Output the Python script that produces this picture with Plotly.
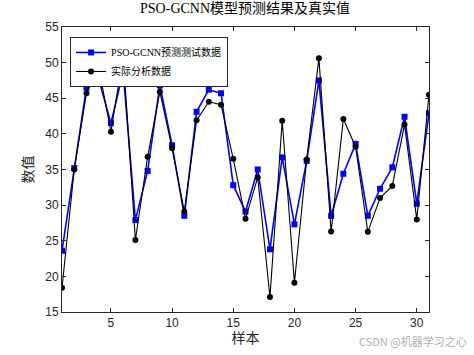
import plotly.graph_objects as go

samples = list(range(1, 32))
pred = [23.6, 35.2, 46.5, 47.7, 41.5, 48.7, 27.9, 34.8, 46.8, 38.4,
        28.5, 43.1, 46.2, 45.7, 32.8, 29.1, 35.0, 23.8, 36.7, 27.3,
        36.2, 47.5, 28.5, 34.4, 38.6, 28.5, 32.3, 35.3, 42.4, 30.2, 42.9]
actual = [18.4, 35.0, 45.7, 49.3, 40.3, 51.0, 25.1, 36.8, 45.9, 38.0,
          29.1, 41.9, 44.5, 44.1, 36.5, 28.1, 33.9, 17.1, 41.85, 19.1,
          36.4, 50.6, 26.3, 42.1, 38.2, 26.25, 31.0, 32.7, 41.3, 28.0, 45.5]

serif = "Times New Roman, Liberation Serif, Noto Sans CJK SC"
sans = "Liberation Sans, Arial, sans-serif"

fig = go.Figure()
fig.add_trace(go.Scatter(x=samples, y=pred, mode="lines+markers", name="PSO-GCNN预测测试数据",
                         line=dict(color="#0000ff", width=1.6),
                         marker=dict(symbol="square", size=6, color="#0000ff")))
fig.add_trace(go.Scatter(x=samples, y=actual, mode="lines+markers", name="实际分析数据",
                         line=dict(color="#000000", width=1.1),
                         marker=dict(symbol="circle", size=6, color="#000000")))

axis_common = dict(showline=True, linecolor="#262626", linewidth=1, mirror="ticks",
                   ticks="inside", ticklen=4, tickcolor="#262626", showgrid=False,
                   zeroline=False, tickfont=dict(family=sans, size=12, color="#262626"))
fig.update_xaxes(range=[1, 31], tickvals=[5, 10, 15, 20, 25, 30],
                 title=dict(text="样本", font=dict(family=serif, size=14, color="#262626"), standoff=3),
                 **axis_common)
fig.update_yaxes(range=[15, 55], tickvals=[15, 20, 25, 30, 35, 40, 45, 50, 55],
                 title=dict(text="数值", font=dict(family=serif, size=14, color="#262626"), standoff=8),
                 **axis_common)

fig.update_layout(
    width=474, height=355,
    margin=dict(l=62, r=45, t=27, b=40),
    paper_bgcolor="white", plot_bgcolor="white",
    title=dict(text="PSO-GCNN模型预测结果及真实值", x=0.517, xanchor="center", y=0.99, yanchor="top",
               font=dict(family=serif, size=14, color="#000000")),
    legend=dict(x=0.022, y=0.965, xanchor="left", yanchor="top", bgcolor="white",
                bordercolor="#262626", borderwidth=1,
                font=dict(family=serif, size=10, color="#000000"),
                tracegroupgap=0, itemwidth=30),
    showlegend=True,
    annotations=[dict(text="CSDN @机器学习之心", xref="paper", yref="paper", x=1.11, y=-0.1,
                      xanchor="right", yanchor="middle", showarrow=False,
                      font=dict(family="Noto Sans CJK SC", size=11, color="#b0b0b0"))],
)

fig.write_html("out.html")
